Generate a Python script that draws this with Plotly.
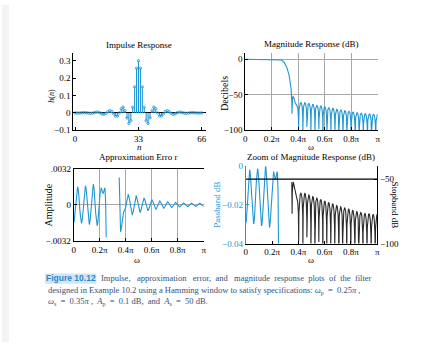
import numpy as np
import plotly.graph_objects as go

# ---------------- data ----------------
# impulse response h(n), n = 0..66 (Hamming-windowed lowpass, read from panel 1)
h = [-0.00023846, -0.00077653, -0.00073362, 0.0, 0.0010030, 0.0014178, 0.00055748,
     -0.0012839, -0.0026366, -0.0018614, 0.0011683, 0.0042657, 0.0042787, 0.0,
     -0.0058492, -0.0079807, -0.0029979, 0.0065707, 0.012849, 0.0086659, -0.0052242,
     -0.018443, -0.018026, 0.0, 0.024070, 0.033032, 0.012669, -0.028906, -0.060407,
     -0.045234, 0.032177, 0.150107, 0.256982, 0.3,
     0.256982, 0.150107, 0.032177, -0.045234, -0.060407, -0.028906, 0.012669, 0.033032,
     0.024070, 0.0, -0.018026, -0.018443, -0.0052242, 0.0086659, 0.012849, 0.0065707,
     -0.0029979, -0.0079807, -0.0058492, 0.0, 0.0042787, 0.0042657, 0.0011683,
     -0.0018614, -0.0026366, -0.0012839, 0.00055748, 0.0014178, 0.0010030, 0.0,
     -0.00073362, -0.00077653, -0.00023846]
n_idx = list(range(len(h)))

wp = 0.25   # passband edge (x pi)
ws = 0.35   # stopband edge (x pi)
Ap = 0.1    # dB
As = 50     # dB

n_ticks = [0, 33, 66]
w_ticks = [0, 0.2, 0.4, 0.6, 0.8, 1.0]
w_ticktext = ["0", "0.2π", "0.4π", "0.6π", "0.8π", "π"]
w_grid = [0.2, 0.4, 0.6, 0.8]

# ---------------- derived responses ----------------
hn = np.array(h)
nn = np.arange(len(h))
w = np.linspace(0, 1, 2001)
H = np.exp(-1j * np.pi * np.outer(w, nn)) @ hn
mag = np.abs(H)
db = 20 * np.log10(np.maximum(mag / mag.max(), 1e-12))
L = (len(h) - 1) // 2
A = hn[L] + 2 * sum(hn[L + k] * np.cos(k * np.pi * w) for k in range(1, L + 1))
err = np.where(w <= wp, A - 1, np.where(w >= ws, A, np.nan))

pb = w <= wp + 0.008
sb = w >= ws
db_pass = np.where(pb, db, np.nan)
db_stop = np.where(sb, db, np.nan)

# ---------------- styling ----------------
W, Hh = 447, 347
BLUE = "#1f96d3"
FONT = "Liberation Serif"
GRID = "#a8a8a8"

def px(x):
    return x / W

def py(y):
    return 1 - y / Hh

fig = go.Figure()

# Panel 1: stems
sx, sy = [], []
for i, v in zip(n_idx, h):
    sx += [i, i, None]
    sy += [0, v, None]
fig.add_trace(go.Scatter(x=sx, y=sy, mode="lines", line=dict(color=BLUE, width=1.1),
                         xaxis="x", yaxis="y", hoverinfo="skip"))
fig.add_trace(go.Scatter(x=n_idx, y=h, mode="markers",
                         marker=dict(symbol="circle-open", size=2.4, color=BLUE, line=dict(width=0.8, color=BLUE)),
                         xaxis="x", yaxis="y"))

# Panel 2: magnitude dB
fig.add_trace(go.Scatter(x=w, y=db, mode="lines", line=dict(color=BLUE, width=1.1),
                         xaxis="x2", yaxis="y2"))

# Panel 3: approximation error
fig.add_trace(go.Scatter(x=w, y=err, mode="lines", line=dict(color=BLUE, width=1.1),
                         xaxis="x3", yaxis="y3", connectgaps=False))

# Panel 4: zoom
fig.add_trace(go.Scatter(x=[0, 1], y=[-As, -As], mode="lines", line=dict(color="black", width=1.2),
                         xaxis="x4", yaxis="y5"))
fig.add_trace(go.Scatter(x=w, y=db_pass, mode="lines", line=dict(color=BLUE, width=1.1),
                         xaxis="x4", yaxis="y4"))
fig.add_trace(go.Scatter(x=w, y=db_stop, mode="lines", line=dict(color="#2a2a2a", width=1.1),
                         xaxis="x4", yaxis="y5"))

tickfont = dict(family=FONT, size=9, color="black")
common = dict(ticks="inside", ticklen=3, tickwidth=1, tickcolor="black", showline=True,
              linecolor="black", linewidth=1, tickfont=tickfont, zeroline=False, showgrid=False)

d1x = [px(72), px(206)]
d1y = [py(129), py(49.3)]
d2x = [px(246), px(380)]
d3x = [px(72.5), px(204)]
d3y = [py(243), py(168.5)]
d4x = [px(246.5), px(379.5)]
d4y = [py(245.7), py(166)]

fig.update_layout(
    width=W, height=Hh, margin=dict(l=0, r=0, t=0, b=0),
    paper_bgcolor="white", plot_bgcolor="rgba(0,0,0,0)", showlegend=False,
    xaxis=dict(domain=d1x, range=[-1, 68], tickvals=n_ticks, anchor="y", **common),
    yaxis=dict(domain=d1y, range=[-0.1, 0.345], tickvals=[-0.1, 0, 0.1, 0.2, 0.3],
               ticktext=["−0.1", "0", "0.1", "0.2", "0.3"], anchor="x",
               **{**common, "zeroline": True}, zerolinecolor="black", zerolinewidth=1),
    xaxis2=dict(domain=d2x, range=[0, 1], tickvals=w_ticks, ticktext=w_ticktext, anchor="y2",
                minor=dict(tickvals=w_grid, showgrid=True, gridcolor=GRID, gridwidth=1.2, ticks=""),
                **common),
    yaxis2=dict(domain=d1y, range=[-100, 9], tickvals=[-100, -50, 0], ticktext=["−100", "−50", "0"],
                anchor="x2", **{**common, "showgrid": True}, gridcolor=GRID, gridwidth=1.2),
    xaxis3=dict(domain=d3x, range=[0, 1], tickvals=w_ticks, ticktext=w_ticktext, anchor="y3",
                minor=dict(tickvals=w_grid, showgrid=True, gridcolor=GRID, gridwidth=1.2, ticks=""),
                mirror=True, **common),
    yaxis3=dict(domain=d3y, range=[-0.0032, 0.0032], tickvals=[-0.0032, 0, 0.0032],
                ticktext=["−.0032", "0", ".0032"], anchor="x3",
                **{**common, "zeroline": True}, zerolinecolor=GRID, zerolinewidth=1.2),
    xaxis4=dict(domain=d4x, range=[0, 1], tickvals=w_ticks, ticktext=w_ticktext, anchor="y4", **common),
    yaxis4=dict(domain=d4y, range=[-0.04, 0], tickvals=[-0.04, -0.02, 0],
                ticktext=["−0.04", "−0.02", "0"], anchor="x4",
                **{**common, "linecolor": BLUE, "tickcolor": BLUE, "tickfont": dict(family=FONT, size=9, color=BLUE)}),
    yaxis5=dict(domain=d4y, range=[-100, -40], tickvals=[-100, -50], ticktext=["−100", "−50"],
                anchor="x4", overlaying="y4", side="right", **common),
)

ann = []
def text(x, y, s, size=9, color="black", angle=0, xanchor="center", family=FONT):
    ann.append(dict(x=px(x), y=py(y), xref="paper", yref="paper", text=s, showarrow=False,
                    xanchor=xanchor, yanchor="middle", textangle=angle,
                    font=dict(family=family, size=size, color=color)))

text(139, 41, "Impulse Response")
text(313, 40, "Magnitude Response (dB)")
text(138, 156, "Approximation Erro r")
text(313, 156, "Zoom of Magnitude Response (dB)")
text(139, 146.5, "<i>n</i>")
text(313, 146, "ω")
text(137, 263, "ω")
text(313, 263, "ω")
text(50, 93, "<i>h</i>(<i>n</i>)", size=8, angle=-90)
text(225, 91, "Decibels", size=10, angle=-90)
text(47, 206, "Amplitude", size=10, angle=-90)
text(217, 206, "Passband dB", size=9, color=BLUE, angle=-90)
text(397, 206, "Stopband dB", size=9, angle=90)

CAP = "#33507c"
CS = 8.5
text(98, 281.5, "Impulse,   approximation   error,  and   magnitude  response  plots  of  the  filter",
     size=CS, color=CAP, xanchor="left")
text(44, 293.5, "designed in Example 10.2 using a Hamming window to satisfy specifications: "
     "<i>ω</i><sub>p</sub>  =  0.25<i>π</i> ,", size=CS, color=CAP, xanchor="left")
text(44, 305.5, "<i>ω</i><sub>s</sub>  =  0.35<i>π</i> ,  <i>A</i><sub>p</sub>  =  0.1 dB,  and  "
     "<i>A</i><sub>s</sub>  =  50 dB.", size=CS, color=CAP, xanchor="left")
fig.add_shape(type="rect", xref="paper", yref="paper", x0=px(43.5), x1=px(95.5), y0=py(287), y1=py(276.5),
              fillcolor="#cfe6f6", line=dict(width=0), layer="below")
fig.add_shape(type="rect", xref="paper", yref="paper", x0=0, x1=px(7), y0=0, y1=1,
              fillcolor="#f3f3f3", line=dict(width=0), layer="below")
text(69.5, 281.5, "<b>Figure 10.12</b>", size=8.5, color="#2f86c6", family="Liberation Sans Narrow, Liberation Sans")

fig.update_layout(annotations=ann)
fig.write_html("out.html")
